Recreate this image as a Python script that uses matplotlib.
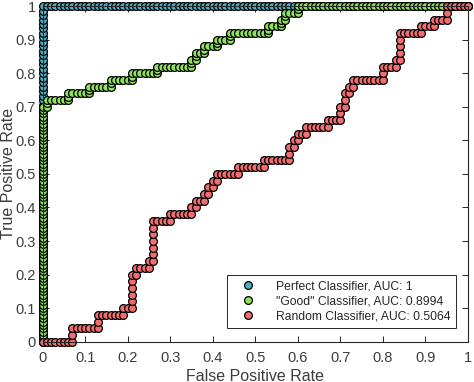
import numpy as np
import matplotlib
matplotlib.use('Agg')
import matplotlib.pyplot as plt

plt.rcParams['font.family'] = ['Liberation Sans', 'DejaVu Sans']

# ROC curves stored as runs of (negatives, positives) in score order
n_neg = 100
perfect_pos = 75
perfect_runs = [(0, 75), (100, 0)]

good_pos = 100
good_runs = [(0, 70), (1, 2), (5, 2), (5, 2), (5, 2), (5, 2), (6, 2), (8, 2),
             (1, 2), (2, 2), (3, 2), (3, 2), (9, 2), (3, 2), (1, 2), (3, 2),
             (40, 0)]

rand_pos = 50
rand_runs = [(7, 2), (6, 2), (6, 1), (2, 5), (1, 1), (3, 1), (1, 6), (4, 1),
             (5, 1), (1, 1), (2, 1), (1, 1), (1, 1), (1, 1), (5, 1), (6, 1),
             (6, 2), (1, 1), (1, 1), (2, 1), (5, 1), (3, 2), (1, 2), (1, 1),
             (1, 1), (7, 2), (3, 1), (1, 4), (5, 1), (3, 1), (3, 2), (5, 0)]

labels = ['Perfect Classifier, AUC: 1',
          '"Good" Classifier, AUC: 0.8994',
          'Random Classifier, AUC: 0.5064']
colors = ['#4db0c6', '#8fe35c', '#f26d70']


def roc_points(runs, npos):
    # walk the label sequence: one point per sample
    steps = []
    for h, v in runs:
        steps += [(1, 0)] * h + [(0, 1)] * v
    steps = np.array(steps)
    fp = np.concatenate([[0], np.cumsum(steps[:, 0])]) / n_neg
    tp = np.concatenate([[0], np.cumsum(steps[:, 1])]) / npos
    return fp, tp


fig = plt.figure(figsize=(4.74, 3.82), dpi=100)
ax = fig.add_axes([0.0897, 0.1055, 0.8977, 0.8785])

curves = [(perfect_runs, perfect_pos), (good_runs, good_pos), (rand_runs, rand_pos)]
for (runs, npos), lab, c in zip(curves, labels, colors):
    fp, tp = roc_points(runs, npos)
    ax.plot(fp, tp, 'o', ms=5.6, mfc=c, mec='black', mew=0.9, label=lab,
            clip_on=False)

ax.set_xlim(0, 1)
ax.set_ylim(0, 1)
ticks = np.arange(0, 1.01, 0.1)
ticklabels = ['0'] + ['%.1f' % t for t in ticks[1:-1]] + ['1']
ax.set_xticks(ticks)
ax.set_xticklabels(ticklabels)
ax.set_yticks(ticks)
ax.set_yticklabels(ticklabels)
ax.tick_params(direction='in', top=True, right=True, length=4, width=0.7,
               colors='#262626', labelcolor='#3c3c3c', labelsize=10.5)
ax.tick_params(axis='x', pad=7)
ax.tick_params(axis='y', pad=5)
for s in ax.spines.values():
    s.set_color('#262626')
    s.set_linewidth(0.8)

ax.set_xlabel('False Positive Rate', fontsize=11.5, color='#3c3c3c')
ax.set_ylabel('True Positive Rate', fontsize=11.5, color='#3c3c3c')
ax.xaxis.set_label_coords(0.5, -0.08)
ax.yaxis.set_label_coords(-0.062, 0.5)

leg = ax.legend(loc='lower right', bbox_to_anchor=(0.972, 0.041),
                borderaxespad=0, fontsize=8.7, fancybox=False, framealpha=1,
                edgecolor='#262626', handletextpad=1.0, borderpad=0.45,
                labelspacing=0.25, handlelength=2.6)
leg.get_frame().set_linewidth(0.7)
for t in leg.get_texts():
    t.set_color('#262626')

fig.savefig('out.png', dpi=100)
